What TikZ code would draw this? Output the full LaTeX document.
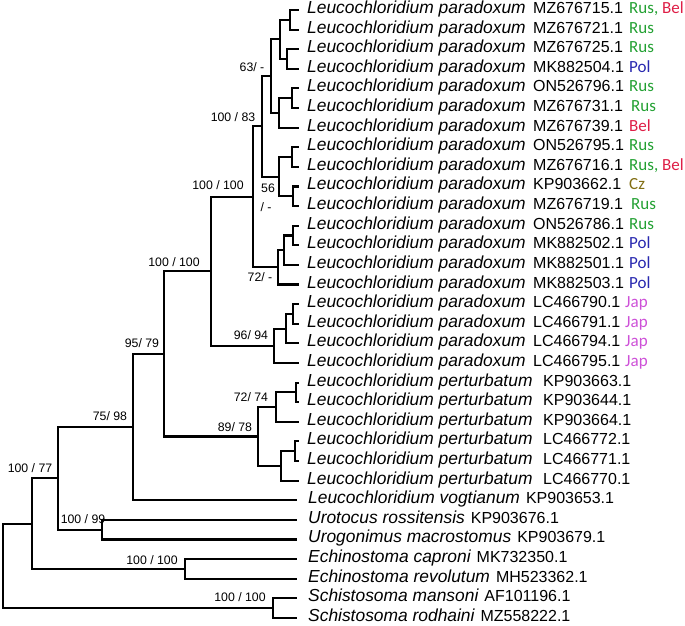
\documentclass[tikz,border=0pt]{standalone}
\usepackage{fontspec}
\setmainfont{Liberation Sans}
\newfontfamily\ctryfont{Carlito}
\definecolor{rus}{RGB}{34,160,50}
\definecolor{bel}{RGB}{222,30,70}
\definecolor{pol}{RGB}{40,40,175}
\definecolor{cz}{RGB}{130,110,20}
\definecolor{jap}{RGB}{205,80,215}
\newcommand{\cRus}{\textcolor{rus}{Rus}}
\newcommand{\cRusBel}{\textcolor{rus}{Rus,} \textcolor{bel}{Bel}}
\newcommand{\cBel}{\textcolor{bel}{Bel}}
\newcommand{\cPol}{\textcolor{pol}{Pol}}
\newcommand{\cCz}{\textcolor{cz}{Cz}}
\newcommand{\cJap}{\textcolor{jap}{Jap}}
\newcommand{\accf}{\upshape\fontsize{16}{18}\selectfont}
\newcommand{\br}[2]{\draw[branch] (#1) |- (#2);}
\begin{document}
\begin{tikzpicture}[x=1pt,y=-1pt,
  branch/.style={line width=2.1pt, line join=miter},
  lname/.style={anchor=base west, inner sep=0pt, font=\fontsize{17.4}{19}\selectfont\itshape},
  accno/.style={anchor=base west, inner sep=0pt, font=\fontsize{16}{18}\selectfont},
  ctry/.style={anchor=base west, inner sep=0pt, font=\ctryfont\fontsize{17}{19}\selectfont},
  supp/.style={inner sep=0pt, font=\fontsize{12.3}{14}\selectfont}]
\useasboundingbox (0,0) rectangle (685,626);

% paradoxum rows
\foreach \i/\acc/\cc/\cx in {1/MZ676715.1/\cRusBel/629, 2/MZ676721.1/\cRus/629,
  3/MZ676725.1/\cRus/629, 4/MK882504.1/\cPol/629, 5/ON526796.1/\cRus/629,
  6/MZ676731.1/\cRus/631, 7/MZ676739.1/\cBel/629, 8/ON526795.1/\cRus/629,
  9/MZ676716.1/\cRusBel/629, 10/KP903662.1/\cCz/629, 11/MZ676719.1/\cRus/631,
  12/ON526786.1/\cRus/629, 13/MK882502.1/\cPol/629, 14/MK882501.1/\cPol/629,
  15/MK882503.1/\cPol/629, 16/LC466790.1/\cJap/625, 17/LC466791.1/\cJap/625,
  18/LC466794.1/\cJap/625, 19/LC466795.1/\cJap/625}{
  \coordinate (L\i) at (299,{10+(\i-1)*19.61});
  \node[lname] (t\i) at (307,{13.5+(\i-1)*19.61}) {Leucochloridium paradoxum};
  \node[accno] (a\i) at (533,{13.5+(\i-1)*19.61}) {\acc};
  \node[ctry] (c\i) at (\cx,{13.5+(\i-1)*19.61}) {\cc};
}
% perturbatum rows
\foreach \i/\acc in {20/KP903663.1, 21/KP903644.1, 22/KP903664.1,
  23/LC466772.1, 24/LC466771.1, 25/LC466770.1}{
  \coordinate (L\i) at (299,{10+(\i-1)*19.61});
  \node[lname] (t\i) at (307,{13.5+(\i-1)*19.61}) {Leucochloridium perturbatum};
  \node[accno] (a\i) at (543,{13.5+(\i-1)*19.61}) {\acc};
}
% other taxa
\foreach \i/\nm/\acc in {26/Leucochloridium vogtianum/KP903653.1,
  27/Urotocus rossitensis/KP903676.1, 28/Urogonimus macrostomus/KP903679.1,
  29/Echinostoma caproni/MK732350.1, 30/Echinostoma revolutum/MH523362.1,
  31/Schistosoma mansoni/AF101196.1, 32/Schistosoma rodhaini/MZ558222.1}{
  \coordinate (L\i) at (297,{10+(\i-1)*19.61});
  \node[lname] (t\i) at (308,{13.5+(\i-1)*19.61}) {\nm\hspace{6pt}{\accf\acc}};
}

% internal nodes
\coordinate (n1) at (290,19.81);
\coordinate (n2) at (287,59.03);
\coordinate (n3) at (280,39.42);
\coordinate (n4) at (292,98.25);
\coordinate (n5) at (279,112.95);
\coordinate (n6) at (271,76.19);
\coordinate (n8) at (292,157.08);
\coordinate (n9) at (293,196.30);
\coordinate (n10) at (279,176.69);
\coordinate (n7) at (262,126.44);
\coordinate (n11) at (293,235.52);
\coordinate (n12) at (284,250.22);
\coordinate (n13) at (278,267.38);
\coordinate (n14) at (253,196.91);
\coordinate (n15) at (293,313.96);
\coordinate (n16) at (286,328.66);
\coordinate (n17) at (274,345.82);
\coordinate (n18) at (211,271.37);
\coordinate (n19) at (296,392.40);
\coordinate (n20) at (276,407.10);
\coordinate (n21) at (295,451.23);
\coordinate (n22) at (281,465.93);
\coordinate (n23) at (258,436.52);
\coordinate (n24) at (164,353.94);
\coordinate (n25) at (133,427.10);
\coordinate (n26) at (102,529.67);
\coordinate (n27) at (58,478.38);
\coordinate (n28) at (185,568.89);
\coordinate (n29) at (32,523.63);
\coordinate (n30) at (273,608.11);
\coordinate (root) at (3,565.87);

% branches
\br{n1}{L1}\br{n1}{L2}
\br{n2}{L3}\br{n2}{L4}
\br{n3}{n1}\br{n3}{n2}
\br{n4}{L5}\br{n4}{L6}
\br{n5}{n4}\br{n5}{L7}
\br{n6}{n3}\br{n6}{n5}
\br{n8}{L8}\br{n8}{L9}
\br{n9}{L10}\br{n9}{L11}
\br{n10}{n8}\br{n10}{n9}
\br{n7}{n6}\br{n7}{n10}
\br{n11}{L12}\br{n11}{L13}
\br{n12}{n11}\br{n12}{L14}
\br{n13}{n12}\br{n13}{L15}
\br{n14}{n7}\br{n14}{n13}
\br{n15}{L16}\br{n15}{L17}
\br{n16}{n15}\br{n16}{L18}
\br{n17}{n16}\br{n17}{L19}
\br{n18}{n14}\br{n18}{n17}
\br{n19}{L20}\br{n19}{L21}
\br{n20}{n19}\br{n20}{L22}
\br{n21}{L23}\br{n21}{L24}
\br{n22}{n21}\br{n22}{L25}
\br{n23}{n20}\br{n23}{n22}
\br{n24}{n18}\br{n24}{n23}
\br{n25}{n24}\br{n25}{L26}
\br{n26}{L27}\br{n26}{L28}
\br{n27}{n25}\br{n27}{n26}
\br{n28}{L29}\br{n28}{L30}
\br{n29}{n27}\br{n29}{n28}
\br{n30}{L31}\br{n30}{L32}
\br{root}{n29}\br{root}{n30}

% support values
\node[supp] (s1) at (252,67) {63/ -};
\node[supp] (s2) at (233,117) {100 / 83};
\node[supp] (s3) at (218,185) {100 / 100};
\node[supp] (s4) at (268,188) {56};
\node[supp] (s5) at (266,207) {/ -};
\node[supp] (s6) at (260,277) {72/ -};
\node[supp] (s7) at (174,262) {100 / 100};
\node[supp] (s8) at (251,335) {96/ 94};
\node[supp] (s9) at (142,343) {95/ 79};
\node[supp] (s10) at (251,397) {72/ 74};
\node[supp] (s11) at (235,427) {89/ 78};
\node[supp] (s12) at (110,416) {75/ 98};
\node[supp] (s13) at (30,468) {100 / 77};
\node[supp] (s14) at (83,519) {100 / 99};
\node[supp] (s15) at (152,560) {100 / 100};
\node[supp] (s16) at (240,597) {100 / 100};
\end{tikzpicture}
\end{document}
